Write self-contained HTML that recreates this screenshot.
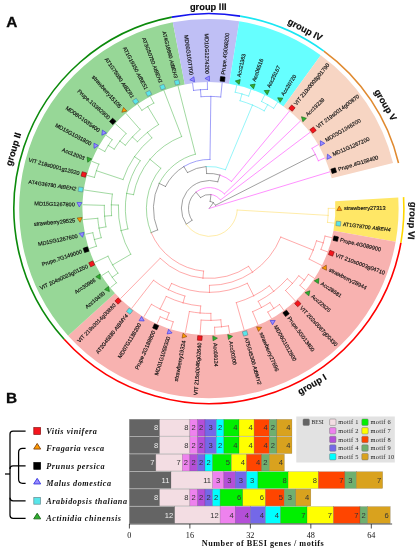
<!DOCTYPE html>
<html lang="en">
<head>
<meta charset="utf-8">
<title>BES1 gene family phylogeny and motif counts</title>
<style>
html,body{margin:0;padding:0;background:#fff;}
body{width:418px;height:550px;overflow:hidden;}
svg{display:block;}
</style>
</head>
<body>
<svg width="418" height="550" viewBox="0 0 418 550">
<rect width="418" height="550" fill="#ffffff"/>
<g id="sectors">
<path d="M398.27 197.47 A189.70 189.70 0 0 1 395.66 241.84 L333.44 230.77 A126.50 126.50 0 0 0 335.18 201.18 Z" fill="#FFE766"/>
<path d="M395.66 241.84 A189.70 189.70 0 0 1 68.09 335.72 L115.00 293.37 A126.50 126.50 0 0 0 333.44 230.77 Z" fill="#F8B2B0"/>
<path d="M68.09 335.72 A189.70 189.70 0 0 1 172.79 22.37 L184.82 84.41 A126.50 126.50 0 0 0 115.00 293.37 Z" fill="#97D797"/>
<path d="M172.79 22.37 A189.70 189.70 0 0 1 239.27 21.35 L229.15 83.73 A126.50 126.50 0 0 0 184.82 84.41 Z" fill="#BFBFF5"/>
<path d="M239.27 21.35 A189.70 189.70 0 0 1 320.73 55.37 L283.48 106.42 A126.50 126.50 0 0 0 229.15 83.73 Z" fill="#66FFFF"/>
<path d="M320.73 55.37 A189.70 189.70 0 0 1 393.04 163.00 L331.69 178.19 A126.50 126.50 0 0 0 283.48 106.42 Z" fill="#F7D5C3"/>
</g>
<g id="ring" fill="none" stroke-width="1.6">
<path d="M403.56 197.16 A195.00 195.00 0 0 1 400.88 242.77" stroke="#FFD700"/>
<path d="M400.88 242.77 A195.00 195.00 0 0 1 64.16 339.27" stroke="#FF0000"/>
<path d="M64.16 339.27 A195.00 195.00 0 0 1 171.79 17.16" stroke="#0B8A0B"/>
<path d="M171.79 17.16 A195.00 195.00 0 0 1 240.12 16.11" stroke="#1414EE"/>
<path d="M240.12 16.11 A195.00 195.00 0 0 1 323.86 51.09" stroke="#19E6F2"/>
<path d="M323.86 51.09 A195.00 195.00 0 0 1 398.51 163.05" stroke="#E08A30"/>
</g>
<g id="tree" fill="none" stroke-width="0.65" stroke-linecap="square">
<path d="M209.30 208.40 L213.31 202.66 M213.31 202.66 A7.00 7.00 0 0 0 210.14 201.45 M210.14 201.45 L210.98 194.50 M210.98 194.50 A14.00 14.00 0 0 0 200.46 197.54 M200.46 197.54 L196.04 192.12 M196.04 192.12 A21.00 21.00 0 0 0 192.00 220.30 M192.00 220.30 L186.23 224.27 M186.23 224.27 A28.00 28.00 0 0 1 217.76 181.71 M217.76 181.71 L219.87 175.03 M219.87 175.03 A35.00 35.00 0 0 0 206.66 173.50 M206.66 173.50 L206.13 166.52 M206.13 166.52 A42.00 42.00 0 0 0 187.46 172.52 M187.46 172.52 L183.82 166.54 M183.82 166.54 A49.00 49.00 0 0 0 165.46 186.51 M165.46 186.51 L159.20 183.38 M159.20 183.38 A56.00 56.00 0 0 0 157.60 229.91 M157.60 229.91 L151.13 232.60 M213.31 202.66 A7.00 7.00 0 0 1 215.54 205.23 M215.54 205.23 L315.36 154.44" stroke="#6E6E6E"/>
<path d="M186.23 224.27 A28.00 28.00 0 0 0 237.25 210.04 M237.25 210.04 L328.09 215.38 M328.09 215.38 A119.00 119.00 0 0 0 328.30 208.40 M328.30 208.40 L335.30 208.40 M328.09 215.38 A119.00 119.00 0 0 1 327.48 222.34 M327.48 222.34 L334.43 223.16" stroke="#FFE27A"/>
<path d="M151.13 232.60 A63.00 63.00 0 0 0 203.57 271.14 M203.57 271.14 L202.94 278.11 M202.94 278.11 A70.00 70.00 0 0 0 248.57 266.35 M248.57 266.35 L252.50 272.14 M252.50 272.14 A77.00 77.00 0 0 0 280.76 237.08 M280.76 237.08 L313.24 250.11 M313.24 250.11 A112.00 112.00 0 0 0 316.51 240.81 M316.51 240.81 L323.21 242.83 M323.21 242.83 A119.00 119.00 0 0 0 325.03 236.09 M325.03 236.09 L331.84 237.72 M323.21 242.83 A119.00 119.00 0 0 1 320.99 249.46 M320.99 249.46 L327.56 251.87 M313.24 250.11 A112.00 112.00 0 0 1 309.17 259.09 M309.17 259.09 L321.65 265.43 M252.50 272.14 A77.00 77.00 0 0 1 209.46 285.40 M209.46 285.40 L209.47 292.40 M209.47 292.40 A84.00 84.00 0 0 0 247.34 283.29 M247.34 283.29 L253.68 295.78 M253.68 295.78 A98.00 98.00 0 0 0 269.44 285.77 M269.44 285.77 L273.74 291.30 M273.74 291.30 A105.00 105.00 0 0 0 287.27 278.73 M287.27 278.73 L292.47 283.42 M292.47 283.42 A112.00 112.00 0 0 0 298.74 275.81 M298.74 275.81 L304.33 280.02 M304.33 280.02 A119.00 119.00 0 0 0 308.37 274.32 M308.37 274.32 L314.20 278.20 M304.33 280.02 A119.00 119.00 0 0 1 299.97 285.48 M299.97 285.48 L305.30 290.01 M292.47 283.42 A112.00 112.00 0 0 1 285.55 290.44 M285.55 290.44 L295.08 300.69 M273.74 291.30 A105.00 105.00 0 0 1 258.22 301.31 M258.22 301.31 L261.48 307.50 M261.48 307.50 A112.00 112.00 0 0 0 269.99 302.53 M269.99 302.53 L273.78 308.41 M273.78 308.41 A119.00 119.00 0 0 0 279.54 304.46 M279.54 304.46 L283.67 310.11 M273.78 308.41 A119.00 119.00 0 0 1 267.80 312.03 M267.80 312.03 L271.25 318.12 M261.48 307.50 A112.00 112.00 0 0 1 252.56 311.71 M252.56 311.71 L257.96 324.62 M253.68 295.78 A98.00 98.00 0 0 1 236.30 302.61 M236.30 302.61 L244.01 329.52 M209.47 292.40 A84.00 84.00 0 0 1 171.57 283.45 M171.57 283.45 L168.43 289.70 M168.43 289.70 A91.00 91.00 0 0 0 184.91 296.07 M184.91 296.07 L183.04 302.81 M183.04 302.81 A98.00 98.00 0 0 0 200.70 306.02 M200.70 306.02 L200.09 313.00 M200.09 313.00 A105.00 105.00 0 0 0 210.86 313.39 M210.86 313.39 L210.97 320.39 M210.97 320.39 A112.00 112.00 0 0 0 220.81 319.81 M220.81 319.81 L221.53 326.77 M221.53 326.77 A119.00 119.00 0 0 0 228.46 325.85 M228.46 325.85 L229.58 332.76 M221.53 326.77 A119.00 119.00 0 0 1 214.57 327.28 M214.57 327.28 L214.88 334.28 M210.97 320.39 A112.00 112.00 0 0 1 201.11 320.10 M201.11 320.10 L200.09 334.06 M200.09 313.00 A105.00 105.00 0 0 1 189.41 311.50 M189.41 311.50 L185.43 332.12 M183.04 302.81 A98.00 98.00 0 0 1 166.25 296.44 M166.25 296.44 L160.10 309.02 M160.10 309.02 A112.00 112.00 0 0 0 169.14 312.95 M169.14 312.95 L166.63 319.49 M166.63 319.49 A119.00 119.00 0 0 0 173.22 321.80 M173.22 321.80 L171.10 328.47 M166.63 319.49 A119.00 119.00 0 0 1 160.19 316.79 M160.19 316.79 L157.30 323.17 M160.10 309.02 A112.00 112.00 0 0 1 151.44 304.30 M151.44 304.30 L144.21 316.29 M168.43 289.70 A91.00 91.00 0 0 1 153.49 280.27 M153.49 280.27 L132.02 307.92 M202.94 278.11 A70.00 70.00 0 0 1 160.18 258.28 M160.18 258.28 L120.89 298.18" stroke="#FF7B7B"/>
<path d="M151.13 232.60 A63.00 63.00 0 0 1 160.76 168.24 M160.76 168.24 L149.98 159.31 M149.98 159.31 A77.00 77.00 0 0 0 133.54 194.66 M133.54 194.66 L126.65 193.41 M126.65 193.41 A84.00 84.00 0 0 0 127.84 228.88 M127.84 228.88 L121.05 230.59 M121.05 230.59 A91.00 91.00 0 0 0 130.73 254.31 M130.73 254.31 L112.60 264.91 M112.60 264.91 A112.00 112.00 0 0 0 117.95 273.20 M117.95 273.20 L112.24 277.25 M112.24 277.25 A119.00 119.00 0 0 0 116.44 282.82 M116.44 282.82 L110.98 287.20 M112.24 277.25 A119.00 119.00 0 0 1 108.36 271.43 M108.36 271.43 L102.43 275.14 M112.60 264.91 A112.00 112.00 0 0 1 108.01 256.19 M108.01 256.19 L95.34 262.16 M121.05 230.59 A91.00 91.00 0 0 1 118.36 205.10 M118.36 205.10 L111.36 204.85 M111.36 204.85 A98.00 98.00 0 0 0 111.57 215.63 M111.57 215.63 L104.59 216.15 M104.59 216.15 A105.00 105.00 0 0 0 105.93 226.85 M105.93 226.85 L99.04 228.08 M99.04 228.08 A112.00 112.00 0 0 0 101.20 237.70 M101.20 237.70 L94.44 239.53 M94.44 239.53 A119.00 119.00 0 0 0 96.47 246.21 M96.47 246.21 L89.83 248.44 M94.44 239.53 A119.00 119.00 0 0 1 92.81 232.74 M92.81 232.74 L85.96 234.17 M99.04 228.08 A112.00 112.00 0 0 1 97.74 218.30 M97.74 218.30 L83.79 219.54 M104.59 216.15 A105.00 105.00 0 0 1 104.34 205.37 M104.34 205.37 L83.35 204.76 M111.36 204.85 A98.00 98.00 0 0 1 112.35 194.11 M112.35 194.11 L84.65 190.03 M126.65 193.41 A84.00 84.00 0 0 1 140.21 160.62 M140.21 160.62 L134.45 156.64 M134.45 156.64 A91.00 91.00 0 0 0 122.99 179.56 M122.99 179.56 L96.43 170.69 M96.43 170.69 A119.00 119.00 0 0 0 94.42 177.38 M94.42 177.38 L87.66 175.55 M96.43 170.69 A119.00 119.00 0 0 1 98.84 164.13 M98.84 164.13 L92.34 161.53 M134.45 156.64 A91.00 91.00 0 0 1 151.85 137.83 M151.85 137.83 L147.43 132.40 M147.43 132.40 A98.00 98.00 0 0 0 137.47 141.73 M137.47 141.73 L132.34 136.97 M132.34 136.97 A105.00 105.00 0 0 0 125.42 145.24 M125.42 145.24 L119.83 141.03 M119.83 141.03 A112.00 112.00 0 0 0 114.25 149.16 M114.25 149.16 L108.31 145.46 M108.31 145.46 A119.00 119.00 0 0 0 104.79 151.49 M104.79 151.49 L98.64 148.15 M108.31 145.46 A119.00 119.00 0 0 1 112.17 139.64 M112.17 139.64 L106.46 135.60 M119.83 141.03 A112.00 112.00 0 0 1 126.10 133.42 M126.10 133.42 L115.70 124.05 M132.34 136.97 A105.00 105.00 0 0 1 140.07 129.45 M140.07 129.45 L126.23 113.67 M147.43 132.40 A98.00 98.00 0 0 1 158.60 124.54 M158.60 124.54 L147.73 106.56 M147.73 106.56 A119.00 119.00 0 0 0 141.86 110.35 M141.86 110.35 L137.90 104.59 M147.73 106.56 A119.00 119.00 0 0 1 153.81 103.13 M153.81 103.13 L150.55 96.93 M149.98 159.31 A77.00 77.00 0 0 1 181.63 136.55 M181.63 136.55 L164.01 90.82 M159.20 183.38 A56.00 56.00 0 0 1 195.43 154.14 M195.43 154.14 L178.10 86.32" stroke="#6FC46F"/>
<path d="M183.82 166.54 A49.00 49.00 0 0 1 209.99 159.40 M209.99 159.40 L210.87 96.41 M210.87 96.41 A112.00 112.00 0 0 0 201.01 96.71 M201.01 96.71 L200.49 89.73 M200.49 89.73 A119.00 119.00 0 0 0 193.55 90.45 M193.55 90.45 L192.62 83.51 M200.49 89.73 A119.00 119.00 0 0 1 207.47 89.41 M207.47 89.41 L207.36 82.41 M210.87 96.41 A112.00 112.00 0 0 1 220.71 96.98 M220.71 96.98 L222.14 83.06" stroke="#6E6EF5"/>
<path d="M206.13 166.52 A42.00 42.00 0 0 1 225.49 169.64 M225.49 169.64 L252.46 105.05 M252.46 105.05 A112.00 112.00 0 0 0 240.06 100.71 M240.06 100.71 L241.98 93.98 M241.98 93.98 A119.00 119.00 0 0 0 235.21 92.26 M235.21 92.26 L236.73 85.42 M241.98 93.98 A119.00 119.00 0 0 1 248.64 96.09 M248.64 96.09 L250.95 89.48 M252.46 105.05 A112.00 112.00 0 0 1 264.27 110.82 M264.27 110.82 L267.71 104.72 M267.71 104.72 A119.00 119.00 0 0 0 261.53 101.47 M261.53 101.47 L264.60 95.18 M267.71 104.72 A119.00 119.00 0 0 1 273.69 108.33 M273.69 108.33 L277.48 102.44" stroke="#5CF0F5"/>
<path d="M219.87 175.03 A35.00 35.00 0 0 1 231.56 181.39 M231.56 181.39 L289.43 111.16 M196.04 192.12 A21.00 21.00 0 0 1 224.46 193.87 M224.46 193.87 L300.27 121.22 M210.98 194.50 A14.00 14.00 0 0 1 220.47 199.96 M220.47 199.96 L309.85 132.47 M315.36 154.44 A119.00 119.00 0 0 0 312.01 148.31 M312.01 148.31 L318.06 144.78 M315.36 154.44 A119.00 119.00 0 0 1 318.35 160.76 M318.35 160.76 L324.76 157.96 M209.30 208.40 L329.88 171.83" stroke="#FF55FF"/>
</g>
<g id="leaves" font-family="'Liberation Sans', Arial, sans-serif" font-size="5.50" fill="#111" stroke="#111" stroke-width="0.15">
<g transform="translate(339.30 208.40) rotate(0.00)"><path d="M0 -2.36 L2.48 2.14 L-2.48 2.14 Z" fill="#FF9A00" stroke="#8A4A10" stroke-width="0.6" stroke-linejoin="miter"/></g>
<text transform="translate(343.90 208.40) rotate(0.00)" dy="0.35em" font-size="5.60">strawberry27313</text>
<g transform="translate(338.40 223.63) rotate(6.73)"><rect x="-2.25" y="-2.25" width="4.50" height="4.50" fill="#58E6EA" stroke="#6A8A90" stroke-width="0.6"/></g>
<text transform="translate(342.97 224.17) rotate(6.73)" dy="0.35em" font-size="5.25">AT1G78700 <tspan font-style="italic">AtBEH4</tspan></text>
<g transform="translate(335.73 238.65) rotate(13.46)"><rect x="-2.25" y="-2.25" width="4.50" height="4.50" fill="#000000" stroke="#000000" stroke-width="0.6"/></g>
<text transform="translate(340.21 239.72) rotate(13.46)" dy="0.35em">Prupe.4G089900</text>
<g transform="translate(331.32 253.25) rotate(20.18)"><rect x="-2.25" y="-2.25" width="4.50" height="4.50" fill="#F5151D" stroke="#8A1010" stroke-width="0.6"/></g>
<text transform="translate(335.63 254.84) rotate(20.18)" dy="0.35em">VIT 210s0003g04710</text>
<g transform="translate(325.22 267.24) rotate(26.91)"><path d="M0 -2.36 L2.48 2.14 L-2.48 2.14 Z" fill="#FF9A00" stroke="#8A4A10" stroke-width="0.6" stroke-linejoin="miter"/></g>
<text transform="translate(329.32 269.32) rotate(26.91)" dy="0.35em" font-size="5.60">strawberry28944</text>
<g transform="translate(317.53 280.42) rotate(33.64)"><path d="M0 -2.36 L2.48 2.14 L-2.48 2.14 Z" fill="#2FB02F" stroke="#1C6A1C" stroke-width="0.6" stroke-linejoin="miter"/></g>
<text transform="translate(321.36 282.96) rotate(33.64)" dy="0.35em" font-size="5.35">Acc28681</text>
<g transform="translate(308.35 292.60) rotate(40.37)"><path d="M0 -2.36 L2.48 2.14 L-2.48 2.14 Z" fill="#2FB02F" stroke="#1C6A1C" stroke-width="0.6" stroke-linejoin="miter"/></g>
<text transform="translate(311.85 295.58) rotate(40.37)" dy="0.35em" font-size="5.35">Acc22625</text>
<g transform="translate(297.80 303.62) rotate(47.10)"><rect x="-2.25" y="-2.25" width="4.50" height="4.50" fill="#F5151D" stroke="#8A1010" stroke-width="0.6"/></g>
<text transform="translate(300.93 306.99) rotate(47.10)" dy="0.35em">VIT 202s0087g00430</text>
<g transform="translate(286.03 313.34) rotate(53.82)"><rect x="-2.25" y="-2.25" width="4.50" height="4.50" fill="#000000" stroke="#000000" stroke-width="0.6"/></g>
<text transform="translate(288.75 317.05) rotate(53.82)" dy="0.35em">Prupe.5G013400</text>
<g transform="translate(273.21 321.60) rotate(60.55)"><path d="M0 -2.36 L2.48 2.14 L-2.48 2.14 Z" fill="#9A8CFF" stroke="#3C3CE0" stroke-width="0.6" stroke-linejoin="miter"/></g>
<text transform="translate(275.47 325.61) rotate(60.55)" dy="0.35em">MD06G1012800</text>
<g transform="translate(259.51 328.31) rotate(67.28)"><path d="M0 -2.36 L2.48 2.14 L-2.48 2.14 Z" fill="#FF9A00" stroke="#8A4A10" stroke-width="0.6" stroke-linejoin="miter"/></g>
<text transform="translate(261.29 332.56) rotate(67.28)" dy="0.35em" font-size="5.60">strawberry27696</text>
<g transform="translate(245.12 333.37) rotate(74.01)"><rect x="-2.25" y="-2.25" width="4.50" height="4.50" fill="#58E6EA" stroke="#6A8A90" stroke-width="0.6"/></g>
<text transform="translate(246.38 337.79) rotate(74.01)" dy="0.35em" font-size="5.25">AT5G45300 <tspan font-style="italic">AtBMY2</tspan></text>
<g transform="translate(230.23 336.70) rotate(80.74)"><path d="M0 -2.36 L2.48 2.14 L-2.48 2.14 Z" fill="#2FB02F" stroke="#1C6A1C" stroke-width="0.6" stroke-linejoin="miter"/></g>
<text transform="translate(230.97 341.24) rotate(80.74)" dy="0.35em" font-size="5.35">Acc20200</text>
<g transform="translate(215.05 338.27) rotate(87.46)"><path d="M0 -2.36 L2.48 2.14 L-2.48 2.14 Z" fill="#2FB02F" stroke="#1C6A1C" stroke-width="0.6" stroke-linejoin="miter"/></g>
<text transform="translate(215.26 342.87) rotate(87.46)" dy="0.35em" font-size="5.35">Acc09124</text>
<g transform="translate(199.80 338.05) rotate(94.19)"><rect x="-2.25" y="-2.25" width="4.50" height="4.50" fill="#F5151D" stroke="#8A1010" stroke-width="0.6"/></g>
<text transform="translate(199.46 342.64) rotate(274.19)" text-anchor="end" dy="0.35em">VIT 215s0046g02640</text>
<g transform="translate(184.67 336.05) rotate(100.92)"><path d="M0 -2.36 L2.48 2.14 L-2.48 2.14 Z" fill="#FF9A00" stroke="#8A4A10" stroke-width="0.6" stroke-linejoin="miter"/></g>
<text transform="translate(183.80 340.56) rotate(280.92)" text-anchor="end" dy="0.35em" font-size="5.60">strawberry19324</text>
<g transform="translate(169.89 332.28) rotate(107.65)"><path d="M0 -2.36 L2.48 2.14 L-2.48 2.14 Z" fill="#9A8CFF" stroke="#3C3CE0" stroke-width="0.6" stroke-linejoin="miter"/></g>
<text transform="translate(168.49 336.67) rotate(287.65)" text-anchor="end" dy="0.35em">MD01G1059300</text>
<g transform="translate(155.65 326.81) rotate(114.38)"><rect x="-2.25" y="-2.25" width="4.50" height="4.50" fill="#000000" stroke="#000000" stroke-width="0.6"/></g>
<text transform="translate(153.75 331.00) rotate(294.38)" text-anchor="end" dy="0.35em">Prupe.2G189800</text>
<g transform="translate(142.14 319.71) rotate(121.10)"><path d="M0 -2.36 L2.48 2.14 L-2.48 2.14 Z" fill="#9A8CFF" stroke="#3C3CE0" stroke-width="0.6" stroke-linejoin="miter"/></g>
<text transform="translate(139.77 323.65) rotate(301.10)" text-anchor="end" dy="0.35em">MD07G1138200</text>
<g transform="translate(129.56 311.08) rotate(127.83)"><rect x="-2.25" y="-2.25" width="4.50" height="4.50" fill="#58E6EA" stroke="#6A8A90" stroke-width="0.6"/></g>
<text transform="translate(126.74 314.71) rotate(307.83)" text-anchor="end" dy="0.35em" font-size="5.25">AT2G45880 <tspan font-style="italic">AtBMY4</tspan></text>
<g transform="translate(118.08 301.03) rotate(134.56)"><rect x="-2.25" y="-2.25" width="4.50" height="4.50" fill="#F5151D" stroke="#8A1010" stroke-width="0.6"/></g>
<text transform="translate(114.86 304.30) rotate(314.56)" text-anchor="end" dy="0.35em">VIT 219s0014g00880</text>
<g transform="translate(107.86 289.70) rotate(141.29)"><path d="M0 -2.36 L2.48 2.14 L-2.48 2.14 Z" fill="#2FB02F" stroke="#1C6A1C" stroke-width="0.6" stroke-linejoin="miter"/></g>
<text transform="translate(104.27 292.58) rotate(321.29)" text-anchor="end" dy="0.35em" font-size="5.35">Acc10430</text>
<g transform="translate(99.03 277.26) rotate(148.02)"><path d="M0 -2.36 L2.48 2.14 L-2.48 2.14 Z" fill="#2FB02F" stroke="#1C6A1C" stroke-width="0.6" stroke-linejoin="miter"/></g>
<text transform="translate(95.13 279.70) rotate(328.02)" text-anchor="end" dy="0.35em" font-size="5.35">Acc30966</text>
<g transform="translate(91.73 263.87) rotate(154.74)"><rect x="-2.25" y="-2.25" width="4.50" height="4.50" fill="#F5151D" stroke="#8A1010" stroke-width="0.6"/></g>
<text transform="translate(87.57 265.83) rotate(334.74)" text-anchor="end" dy="0.35em">VIT 204s0023g01250</text>
<g transform="translate(86.04 249.71) rotate(161.47)"><rect x="-2.25" y="-2.25" width="4.50" height="4.50" fill="#000000" stroke="#000000" stroke-width="0.6"/></g>
<text transform="translate(81.68 251.17) rotate(341.47)" text-anchor="end" dy="0.35em">Prupe.7G149000</text>
<g transform="translate(82.05 234.98) rotate(168.20)"><path d="M0 -2.36 L2.48 2.14 L-2.48 2.14 Z" fill="#9A8CFF" stroke="#3C3CE0" stroke-width="0.6" stroke-linejoin="miter"/></g>
<text transform="translate(77.54 235.93) rotate(348.20)" text-anchor="end" dy="0.35em">MD15G1267600</text>
<g transform="translate(79.81 219.89) rotate(174.93)"><path d="M0 -2.36 L2.48 2.14 L-2.48 2.14 Z" fill="#FF9A00" stroke="#8A4A10" stroke-width="0.6" stroke-linejoin="miter"/></g>
<text transform="translate(75.23 220.30) rotate(354.93)" text-anchor="end" dy="0.35em" font-size="5.60">strawberry29525</text>
<g transform="translate(79.35 204.64) rotate(181.66)"><path d="M0 -2.36 L2.48 2.14 L-2.48 2.14 Z" fill="#9A8CFF" stroke="#3C3CE0" stroke-width="0.6" stroke-linejoin="miter"/></g>
<text transform="translate(74.76 204.51) rotate(361.66)" text-anchor="end" dy="0.35em">MD15G1267800</text>
<g transform="translate(80.69 189.45) rotate(188.38)"><rect x="-2.25" y="-2.25" width="4.50" height="4.50" fill="#58E6EA" stroke="#6A8A90" stroke-width="0.6"/></g>
<text transform="translate(76.14 188.77) rotate(368.38)" text-anchor="end" dy="0.35em" font-size="5.25">AT4G36780 <tspan font-style="italic">AtBEH2</tspan></text>
<g transform="translate(83.80 174.51) rotate(195.11)"><rect x="-2.25" y="-2.25" width="4.50" height="4.50" fill="#F5151D" stroke="#8A1010" stroke-width="0.6"/></g>
<text transform="translate(79.35 173.31) rotate(375.11)" text-anchor="end" dy="0.35em">VIT 218s0001g12020</text>
<g transform="translate(88.63 160.04) rotate(201.84)"><path d="M0 -2.36 L2.48 2.14 L-2.48 2.14 Z" fill="#2FB02F" stroke="#1C6A1C" stroke-width="0.6" stroke-linejoin="miter"/></g>
<text transform="translate(84.36 158.33) rotate(381.84)" text-anchor="end" dy="0.35em" font-size="5.35">Acc12003</text>
<g transform="translate(95.13 146.23) rotate(208.57)"><path d="M0 -2.36 L2.48 2.14 L-2.48 2.14 Z" fill="#9A8CFF" stroke="#3C3CE0" stroke-width="0.6" stroke-linejoin="miter"/></g>
<text transform="translate(91.09 144.03) rotate(388.57)" text-anchor="end" dy="0.35em">MD15G1031800</text>
<g transform="translate(103.20 133.29) rotate(215.30)"><path d="M0 -2.36 L2.48 2.14 L-2.48 2.14 Z" fill="#9A8CFF" stroke="#3C3CE0" stroke-width="0.6" stroke-linejoin="miter"/></g>
<text transform="translate(99.44 130.63) rotate(395.30)" text-anchor="end" dy="0.35em">MD08G1035400</text>
<g transform="translate(112.73 121.37) rotate(222.02)"><rect x="-2.25" y="-2.25" width="4.50" height="4.50" fill="#000000" stroke="#000000" stroke-width="0.6"/></g>
<text transform="translate(109.31 118.29) rotate(402.02)" text-anchor="end" dy="0.35em">Prupe.1G382900</text>
<g transform="translate(123.59 110.66) rotate(228.75)"><path d="M0 -2.36 L2.48 2.14 L-2.48 2.14 Z" fill="#FF9A00" stroke="#8A4A10" stroke-width="0.6" stroke-linejoin="miter"/></g>
<text transform="translate(120.56 107.20) rotate(408.75)" text-anchor="end" dy="0.35em" font-size="5.60">strawberry15105</text>
<g transform="translate(135.63 101.29) rotate(235.48)"><rect x="-2.25" y="-2.25" width="4.50" height="4.50" fill="#58E6EA" stroke="#6A8A90" stroke-width="0.6"/></g>
<text transform="translate(133.02 97.50) rotate(415.48)" text-anchor="end" dy="0.35em" font-size="5.25">AT1G75080 <tspan font-style="italic">AtBZR1</tspan></text>
<g transform="translate(148.69 93.40) rotate(242.21)"><rect x="-2.25" y="-2.25" width="4.50" height="4.50" fill="#58E6EA" stroke="#6A8A90" stroke-width="0.6"/></g>
<text transform="translate(146.54 89.33) rotate(422.21)" text-anchor="end" dy="0.35em" font-size="5.25">AT1G19350 <tspan font-style="italic">AtBES1</tspan></text>
<g transform="translate(162.58 87.09) rotate(248.94)"><rect x="-2.25" y="-2.25" width="4.50" height="4.50" fill="#58E6EA" stroke="#6A8A90" stroke-width="0.6"/></g>
<text transform="translate(160.92 82.79) rotate(428.94)" text-anchor="end" dy="0.35em" font-size="5.25">AT3G50750 <tspan font-style="italic">AtBEH1</tspan></text>
<g transform="translate(177.11 82.45) rotate(255.66)"><rect x="-2.25" y="-2.25" width="4.50" height="4.50" fill="#58E6EA" stroke="#6A8A90" stroke-width="0.6"/></g>
<text transform="translate(175.97 77.99) rotate(435.66)" text-anchor="end" dy="0.35em" font-size="5.25">AT4G18890 <tspan font-style="italic">AtBEH3</tspan></text>
<g transform="translate(192.09 79.54) rotate(262.39)"><path d="M0 -2.36 L2.48 2.14 L-2.48 2.14 Z" fill="#9A8CFF" stroke="#3C3CE0" stroke-width="0.6" stroke-linejoin="miter"/></g>
<text transform="translate(191.48 74.98) rotate(442.39)" text-anchor="end" dy="0.35em">MD00G1007700</text>
<g transform="translate(207.30 78.42) rotate(269.12)"><path d="M0 -2.36 L2.48 2.14 L-2.48 2.14 Z" fill="#9A8CFF" stroke="#3C3CE0" stroke-width="0.6" stroke-linejoin="miter"/></g>
<text transform="translate(207.23 73.82) rotate(449.12)" text-anchor="end" dy="0.35em">MD10G1274200</text>
<g transform="translate(222.55 79.08) rotate(275.85)"><rect x="-2.25" y="-2.25" width="4.50" height="4.50" fill="#000000" stroke="#000000" stroke-width="0.6"/></g>
<text transform="translate(223.01 74.50) rotate(275.85)" dy="0.35em">Prupe.4G068200</text>
<g transform="translate(237.61 81.52) rotate(282.58)"><path d="M0 -2.36 L2.48 2.14 L-2.48 2.14 Z" fill="#2FB02F" stroke="#1C6A1C" stroke-width="0.6" stroke-linejoin="miter"/></g>
<text transform="translate(238.61 77.03) rotate(282.58)" dy="0.35em" font-size="5.35">Acc21363</text>
<g transform="translate(252.28 85.71) rotate(289.30)"><path d="M0 -2.36 L2.48 2.14 L-2.48 2.14 Z" fill="#2FB02F" stroke="#1C6A1C" stroke-width="0.6" stroke-linejoin="miter"/></g>
<text transform="translate(253.80 81.37) rotate(289.30)" dy="0.35em" font-size="5.35">Acc06516</text>
<g transform="translate(266.35 91.59) rotate(296.03)"><path d="M0 -2.36 L2.48 2.14 L-2.48 2.14 Z" fill="#2FB02F" stroke="#1C6A1C" stroke-width="0.6" stroke-linejoin="miter"/></g>
<text transform="translate(268.37 87.46) rotate(296.03)" dy="0.35em" font-size="5.35">Acc25167</text>
<g transform="translate(279.65 99.08) rotate(302.76)"><path d="M0 -2.36 L2.48 2.14 L-2.48 2.14 Z" fill="#2FB02F" stroke="#1C6A1C" stroke-width="0.6" stroke-linejoin="miter"/></g>
<text transform="translate(282.13 95.21) rotate(302.76)" dy="0.35em" font-size="5.35">Acc20720</text>
<g transform="translate(291.97 108.07) rotate(309.49)"><rect x="-2.25" y="-2.25" width="4.50" height="4.50" fill="#F5151D" stroke="#8A1010" stroke-width="0.6"/></g>
<text transform="translate(294.89 104.52) rotate(309.49)" dy="0.35em">VIT 210s0003g01790</text>
<g transform="translate(303.15 118.45) rotate(316.22)"><path d="M0 -2.36 L2.48 2.14 L-2.48 2.14 Z" fill="#2FB02F" stroke="#1C6A1C" stroke-width="0.6" stroke-linejoin="miter"/></g>
<text transform="translate(306.47 115.26) rotate(316.22)" dy="0.35em" font-size="5.35">Acc19239</text>
<g transform="translate(313.05 130.06) rotate(322.94)"><rect x="-2.25" y="-2.25" width="4.50" height="4.50" fill="#F5151D" stroke="#8A1010" stroke-width="0.6"/></g>
<text transform="translate(316.72 127.29) rotate(322.94)" dy="0.35em">VIT 219s0014g00870</text>
<g transform="translate(321.51 142.76) rotate(329.67)"><path d="M0 -2.36 L2.48 2.14 L-2.48 2.14 Z" fill="#9A8CFF" stroke="#3C3CE0" stroke-width="0.6" stroke-linejoin="miter"/></g>
<text transform="translate(325.48 140.43) rotate(329.67)" dy="0.35em">MD03G1246200</text>
<g transform="translate(328.43 156.35) rotate(336.40)"><path d="M0 -2.36 L2.48 2.14 L-2.48 2.14 Z" fill="#9A8CFF" stroke="#3C3CE0" stroke-width="0.6" stroke-linejoin="miter"/></g>
<text transform="translate(332.64 154.51) rotate(336.40)" dy="0.35em">MD11G1267200</text>
<g transform="translate(333.70 170.67) rotate(343.13)"><rect x="-2.25" y="-2.25" width="4.50" height="4.50" fill="#000000" stroke="#000000" stroke-width="0.6"/></g>
<text transform="translate(338.11 169.33) rotate(343.13)" dy="0.35em">Prupe.4G158400</text>
</g>
<g id="glabels" font-family="'Liberation Sans', Arial, sans-serif" font-size="9.3" font-weight="bold" fill="#0a0a0a" stroke="#0a0a0a" stroke-width="0.15" text-anchor="middle">
<text transform="translate(312.02 384.19) rotate(-30.30)" dy="0.35em">group I</text>
<text transform="translate(13.24 149.21) rotate(286.80)" dy="0.35em">group II</text>
<text transform="translate(208.24 6.70) rotate(359.70)" dy="0.35em">group III</text>
<text transform="translate(305.23 29.50) rotate(388.20)" dy="0.35em">group IV</text>
<text transform="translate(385.68 104.92) rotate(419.60)" dy="0.35em">group V</text>
<text transform="translate(412.32 220.82) rotate(93.50)" dy="0.35em">group VI</text>
</g>
<g font-family="'Liberation Sans', Arial, sans-serif" font-weight="bold" font-size="15.4" fill="#0a0a0a" stroke="#0a0a0a" stroke-width="0.3">
<text x="6.2" y="26.9">A</text>
<text x="6.1" y="403.3">B</text>
</g>
<g id="sptree" fill="none" stroke="#000" stroke-width="1.25">
<path d="M5 474 H10.00"/>
<path d="M25.60 431.00 H13.00 Q10.00 431.00 10.00 434.00 V515.25 Q10.00 518.25 13.00 518.25 H25.60"/>
<path d="M10.00 497.80 Q10.00 500.80 13.00 500.80 H25.60"/>
<path d="M10.00 468.90 Q10.00 465.90 13.00 465.90 H25.60"/>
<path d="M25.60 448.45 H22.60 Q18.60 448.45 18.60 452.45 V479.35 Q18.60 483.35 22.60 483.35 H25.60"/>
</g>
<g id="spmarks">
<g transform="translate(37.2 431.00)"><rect x="-3.4" y="-3.4" width="6.8" height="6.8" fill="#F5151D" stroke="#8A1010" stroke-width="0.7"/></g>
<g transform="translate(37.2 448.45)"><path d="M0 -5.0 L3.5 0.6 L-3.5 0.6 Z" fill="#FF9A00" stroke="#8A4A10" stroke-width="0.95" stroke-linejoin="miter"/></g>
<g transform="translate(37.2 465.90)"><rect x="-3.4" y="-3.4" width="6.8" height="6.8" fill="#000000" stroke="#000000" stroke-width="0.7"/></g>
<g transform="translate(37.2 483.35)"><path d="M0 -5.0 L3.5 0.6 L-3.5 0.6 Z" fill="#9A8CFF" stroke="#3C3CE0" stroke-width="0.95" stroke-linejoin="miter"/></g>
<g transform="translate(37.2 500.80)"><rect x="-3.4" y="-3.4" width="6.8" height="6.8" fill="#58E6EA" stroke="#6A8A90" stroke-width="0.7"/></g>
<g transform="translate(37.2 518.25)"><path d="M0 -5.0 L3.5 0.6 L-3.5 0.6 Z" fill="#2FB02F" stroke="#1C6A1C" stroke-width="0.95" stroke-linejoin="miter"/></g>
</g>
<g id="spnames" font-family="'Liberation Serif', 'Times New Roman', serif" font-weight="bold" font-style="italic" font-size="8.2" fill="#111" letter-spacing="0.55">
<text x="46.3" y="433.70">Vitis vinifera</text>
<text x="46.3" y="451.15">Fragaria vesca</text>
<text x="46.3" y="468.60">Prunus persica</text>
<text x="46.3" y="486.05">Malus domestica</text>
<text x="46.3" y="503.50">Arabidopsis thaliana</text>
<text x="46.3" y="520.95">Actinidia chinensis</text>
</g>
<g id="bars">
<rect x="129.40" y="419.35" width="30.24" height="16.75" fill="#646464" stroke="#444" stroke-opacity="0.45" stroke-width="0.4"/>
<rect x="159.64" y="419.35" width="30.24" height="16.75" fill="#F3DDE3" stroke="#444" stroke-opacity="0.45" stroke-width="0.4"/>
<rect x="189.88" y="419.35" width="7.56" height="16.75" fill="#EE82EE" stroke="#444" stroke-opacity="0.45" stroke-width="0.4"/>
<rect x="197.44" y="419.35" width="7.56" height="16.75" fill="#B44FD8" stroke="#444" stroke-opacity="0.45" stroke-width="0.4"/>
<rect x="205.00" y="419.35" width="11.34" height="16.75" fill="#7468E8" stroke="#444" stroke-opacity="0.45" stroke-width="0.4"/>
<rect x="216.34" y="419.35" width="7.56" height="16.75" fill="#00FFFF" stroke="#444" stroke-opacity="0.45" stroke-width="0.4"/>
<rect x="223.90" y="419.35" width="15.12" height="16.75" fill="#00F000" stroke="#444" stroke-opacity="0.45" stroke-width="0.4"/>
<rect x="239.02" y="419.35" width="15.12" height="16.75" fill="#FFFF00" stroke="#444" stroke-opacity="0.45" stroke-width="0.4"/>
<rect x="254.14" y="419.35" width="15.12" height="16.75" fill="#FF4500" stroke="#444" stroke-opacity="0.45" stroke-width="0.4"/>
<rect x="269.26" y="419.35" width="7.56" height="16.75" fill="#6FAF6F" stroke="#444" stroke-opacity="0.45" stroke-width="0.4"/>
<rect x="276.82" y="419.35" width="15.12" height="16.75" fill="#D9A21E" stroke="#444" stroke-opacity="0.45" stroke-width="0.4"/>
<rect x="129.40" y="436.80" width="30.24" height="16.75" fill="#646464" stroke="#444" stroke-opacity="0.45" stroke-width="0.4"/>
<rect x="159.64" y="436.80" width="30.24" height="16.75" fill="#F3DDE3" stroke="#444" stroke-opacity="0.45" stroke-width="0.4"/>
<rect x="189.88" y="436.80" width="7.56" height="16.75" fill="#EE82EE" stroke="#444" stroke-opacity="0.45" stroke-width="0.4"/>
<rect x="197.44" y="436.80" width="7.56" height="16.75" fill="#B44FD8" stroke="#444" stroke-opacity="0.45" stroke-width="0.4"/>
<rect x="205.00" y="436.80" width="11.34" height="16.75" fill="#7468E8" stroke="#444" stroke-opacity="0.45" stroke-width="0.4"/>
<rect x="216.34" y="436.80" width="7.56" height="16.75" fill="#00FFFF" stroke="#444" stroke-opacity="0.45" stroke-width="0.4"/>
<rect x="223.90" y="436.80" width="15.12" height="16.75" fill="#00F000" stroke="#444" stroke-opacity="0.45" stroke-width="0.4"/>
<rect x="239.02" y="436.80" width="15.12" height="16.75" fill="#FFFF00" stroke="#444" stroke-opacity="0.45" stroke-width="0.4"/>
<rect x="254.14" y="436.80" width="15.12" height="16.75" fill="#FF4500" stroke="#444" stroke-opacity="0.45" stroke-width="0.4"/>
<rect x="269.26" y="436.80" width="7.56" height="16.75" fill="#6FAF6F" stroke="#444" stroke-opacity="0.45" stroke-width="0.4"/>
<rect x="276.82" y="436.80" width="15.12" height="16.75" fill="#D9A21E" stroke="#444" stroke-opacity="0.45" stroke-width="0.4"/>
<rect x="129.40" y="454.25" width="26.46" height="16.75" fill="#646464" stroke="#444" stroke-opacity="0.45" stroke-width="0.4"/>
<rect x="155.86" y="454.25" width="26.46" height="16.75" fill="#F3DDE3" stroke="#444" stroke-opacity="0.45" stroke-width="0.4"/>
<rect x="182.32" y="454.25" width="7.56" height="16.75" fill="#EE82EE" stroke="#444" stroke-opacity="0.45" stroke-width="0.4"/>
<rect x="189.88" y="454.25" width="7.56" height="16.75" fill="#B44FD8" stroke="#444" stroke-opacity="0.45" stroke-width="0.4"/>
<rect x="197.44" y="454.25" width="7.56" height="16.75" fill="#7468E8" stroke="#444" stroke-opacity="0.45" stroke-width="0.4"/>
<rect x="205.00" y="454.25" width="7.56" height="16.75" fill="#00FFFF" stroke="#444" stroke-opacity="0.45" stroke-width="0.4"/>
<rect x="212.56" y="454.25" width="18.90" height="16.75" fill="#00F000" stroke="#444" stroke-opacity="0.45" stroke-width="0.4"/>
<rect x="231.46" y="454.25" width="15.12" height="16.75" fill="#FFFF00" stroke="#444" stroke-opacity="0.45" stroke-width="0.4"/>
<rect x="246.58" y="454.25" width="15.12" height="16.75" fill="#FF4500" stroke="#444" stroke-opacity="0.45" stroke-width="0.4"/>
<rect x="261.70" y="454.25" width="7.56" height="16.75" fill="#6FAF6F" stroke="#444" stroke-opacity="0.45" stroke-width="0.4"/>
<rect x="269.26" y="454.25" width="15.12" height="16.75" fill="#D9A21E" stroke="#444" stroke-opacity="0.45" stroke-width="0.4"/>
<rect x="129.40" y="471.70" width="41.58" height="16.75" fill="#646464" stroke="#444" stroke-opacity="0.45" stroke-width="0.4"/>
<rect x="170.98" y="471.70" width="41.58" height="16.75" fill="#F3DDE3" stroke="#444" stroke-opacity="0.45" stroke-width="0.4"/>
<rect x="212.56" y="471.70" width="11.34" height="16.75" fill="#EE82EE" stroke="#444" stroke-opacity="0.45" stroke-width="0.4"/>
<rect x="223.90" y="471.70" width="11.34" height="16.75" fill="#B44FD8" stroke="#444" stroke-opacity="0.45" stroke-width="0.4"/>
<rect x="235.24" y="471.70" width="11.34" height="16.75" fill="#7468E8" stroke="#444" stroke-opacity="0.45" stroke-width="0.4"/>
<rect x="246.58" y="471.70" width="11.34" height="16.75" fill="#00FFFF" stroke="#444" stroke-opacity="0.45" stroke-width="0.4"/>
<rect x="257.92" y="471.70" width="30.24" height="16.75" fill="#00F000" stroke="#444" stroke-opacity="0.45" stroke-width="0.4"/>
<rect x="288.16" y="471.70" width="30.24" height="16.75" fill="#FFFF00" stroke="#444" stroke-opacity="0.45" stroke-width="0.4"/>
<rect x="318.40" y="471.70" width="26.46" height="16.75" fill="#FF4500" stroke="#444" stroke-opacity="0.45" stroke-width="0.4"/>
<rect x="344.86" y="471.70" width="11.34" height="16.75" fill="#6FAF6F" stroke="#444" stroke-opacity="0.45" stroke-width="0.4"/>
<rect x="356.20" y="471.70" width="26.46" height="16.75" fill="#D9A21E" stroke="#444" stroke-opacity="0.45" stroke-width="0.4"/>
<rect x="129.40" y="489.15" width="30.24" height="16.75" fill="#646464" stroke="#444" stroke-opacity="0.45" stroke-width="0.4"/>
<rect x="159.64" y="489.15" width="30.24" height="16.75" fill="#F3DDE3" stroke="#444" stroke-opacity="0.45" stroke-width="0.4"/>
<rect x="189.88" y="489.15" width="7.56" height="16.75" fill="#EE82EE" stroke="#444" stroke-opacity="0.45" stroke-width="0.4"/>
<rect x="197.44" y="489.15" width="7.56" height="16.75" fill="#B44FD8" stroke="#444" stroke-opacity="0.45" stroke-width="0.4"/>
<rect x="205.00" y="489.15" width="7.56" height="16.75" fill="#7468E8" stroke="#444" stroke-opacity="0.45" stroke-width="0.4"/>
<rect x="212.56" y="489.15" width="7.56" height="16.75" fill="#00FFFF" stroke="#444" stroke-opacity="0.45" stroke-width="0.4"/>
<rect x="220.12" y="489.15" width="22.68" height="16.75" fill="#00F000" stroke="#444" stroke-opacity="0.45" stroke-width="0.4"/>
<rect x="242.80" y="489.15" width="22.68" height="16.75" fill="#FFFF00" stroke="#444" stroke-opacity="0.45" stroke-width="0.4"/>
<rect x="265.48" y="489.15" width="18.90" height="16.75" fill="#FF4500" stroke="#444" stroke-opacity="0.45" stroke-width="0.4"/>
<rect x="284.38" y="489.15" width="11.34" height="16.75" fill="#6FAF6F" stroke="#444" stroke-opacity="0.45" stroke-width="0.4"/>
<rect x="295.72" y="489.15" width="15.12" height="16.75" fill="#D9A21E" stroke="#444" stroke-opacity="0.45" stroke-width="0.4"/>
<rect x="129.40" y="506.60" width="45.36" height="16.75" fill="#646464" stroke="#444" stroke-opacity="0.45" stroke-width="0.4"/>
<rect x="174.76" y="506.60" width="45.36" height="16.75" fill="#F3DDE3" stroke="#444" stroke-opacity="0.45" stroke-width="0.4"/>
<rect x="220.12" y="506.60" width="15.12" height="16.75" fill="#EE82EE" stroke="#444" stroke-opacity="0.45" stroke-width="0.4"/>
<rect x="235.24" y="506.60" width="15.12" height="16.75" fill="#B44FD8" stroke="#444" stroke-opacity="0.45" stroke-width="0.4"/>
<rect x="250.36" y="506.60" width="15.12" height="16.75" fill="#7468E8" stroke="#444" stroke-opacity="0.45" stroke-width="0.4"/>
<rect x="265.48" y="506.60" width="15.12" height="16.75" fill="#00FFFF" stroke="#444" stroke-opacity="0.45" stroke-width="0.4"/>
<rect x="280.60" y="506.60" width="26.46" height="16.75" fill="#00F000" stroke="#444" stroke-opacity="0.45" stroke-width="0.4"/>
<rect x="307.06" y="506.60" width="26.46" height="16.75" fill="#FFFF00" stroke="#444" stroke-opacity="0.45" stroke-width="0.4"/>
<rect x="333.52" y="506.60" width="26.46" height="16.75" fill="#FF4500" stroke="#444" stroke-opacity="0.45" stroke-width="0.4"/>
<rect x="359.98" y="506.60" width="7.56" height="16.75" fill="#6FAF6F" stroke="#444" stroke-opacity="0.45" stroke-width="0.4"/>
<rect x="367.54" y="506.60" width="22.68" height="16.75" fill="#D9A21E" stroke="#444" stroke-opacity="0.45" stroke-width="0.4"/>
</g>
<g id="barlabels" font-family="'Liberation Sans', Arial, sans-serif" font-size="7.6" text-anchor="end">
<text x="158.14" y="430.48" fill="#efefef">8</text>
<text x="188.38" y="430.48" fill="#333">8</text>
<text x="195.66" y="430.48" fill="#333">2</text>
<text x="203.22" y="430.48" fill="#333">2</text>
<text x="212.67" y="430.48" fill="#333">3</text>
<text x="222.12" y="430.48" fill="#333">2</text>
<text x="237.52" y="430.48" fill="#333">4</text>
<text x="252.64" y="430.48" fill="#333">4</text>
<text x="267.76" y="430.48" fill="#333">4</text>
<text x="275.04" y="430.48" fill="#333">2</text>
<text x="290.44" y="430.48" fill="#333">4</text>
<text x="158.14" y="447.93" fill="#efefef">8</text>
<text x="188.38" y="447.93" fill="#333">8</text>
<text x="195.66" y="447.93" fill="#333">2</text>
<text x="203.22" y="447.93" fill="#333">2</text>
<text x="212.67" y="447.93" fill="#333">3</text>
<text x="222.12" y="447.93" fill="#333">2</text>
<text x="237.52" y="447.93" fill="#333">4</text>
<text x="252.64" y="447.93" fill="#333">4</text>
<text x="267.76" y="447.93" fill="#333">4</text>
<text x="275.04" y="447.93" fill="#333">2</text>
<text x="290.44" y="447.93" fill="#333">4</text>
<text x="154.36" y="465.38" fill="#efefef">7</text>
<text x="180.82" y="465.38" fill="#333">7</text>
<text x="188.10" y="465.38" fill="#333">2</text>
<text x="195.66" y="465.38" fill="#333">2</text>
<text x="203.22" y="465.38" fill="#333">2</text>
<text x="210.78" y="465.38" fill="#333">2</text>
<text x="229.96" y="465.38" fill="#333">5</text>
<text x="245.08" y="465.38" fill="#333">4</text>
<text x="260.20" y="465.38" fill="#333">4</text>
<text x="267.48" y="465.38" fill="#333">2</text>
<text x="282.88" y="465.38" fill="#333">4</text>
<text x="169.48" y="482.83" fill="#efefef">11</text>
<text x="211.06" y="482.83" fill="#333">11</text>
<text x="220.23" y="482.83" fill="#333">3</text>
<text x="231.57" y="482.83" fill="#333">3</text>
<text x="242.91" y="482.83" fill="#333">3</text>
<text x="254.25" y="482.83" fill="#333">3</text>
<text x="286.66" y="482.83" fill="#333">8</text>
<text x="316.90" y="482.83" fill="#333">8</text>
<text x="343.36" y="482.83" fill="#333">7</text>
<text x="352.53" y="482.83" fill="#333">3</text>
<text x="381.16" y="482.83" fill="#333">7</text>
<text x="158.14" y="500.28" fill="#efefef">8</text>
<text x="188.38" y="500.28" fill="#333">8</text>
<text x="195.66" y="500.28" fill="#333">2</text>
<text x="203.22" y="500.28" fill="#333">2</text>
<text x="210.78" y="500.28" fill="#333">2</text>
<text x="218.34" y="500.28" fill="#333">2</text>
<text x="241.30" y="500.28" fill="#333">6</text>
<text x="263.98" y="500.28" fill="#333">6</text>
<text x="282.88" y="500.28" fill="#333">5</text>
<text x="292.05" y="500.28" fill="#333">3</text>
<text x="309.34" y="500.28" fill="#333">4</text>
<text x="173.26" y="517.73" fill="#efefef">12</text>
<text x="218.62" y="517.73" fill="#333">12</text>
<text x="233.74" y="517.73" fill="#333">4</text>
<text x="248.86" y="517.73" fill="#333">4</text>
<text x="263.98" y="517.73" fill="#333">4</text>
<text x="279.10" y="517.73" fill="#333">4</text>
<text x="305.56" y="517.73" fill="#333">7</text>
<text x="332.02" y="517.73" fill="#333">7</text>
<text x="358.48" y="517.73" fill="#333">7</text>
<text x="365.76" y="517.73" fill="#333">2</text>
<text x="388.72" y="517.73" fill="#333">6</text>
</g>
<g id="axis" stroke="#222" stroke-width="0.8" fill="none">
<path d="M129.00 524.00 H392.11"/>
<path d="M129.40 524.00 v4.5"/>
<path d="M189.88 524.00 v4.5"/>
<path d="M250.36 524.00 v4.5"/>
<path d="M310.84 524.00 v4.5"/>
<path d="M371.32 524.00 v4.5"/>
</g>
<g font-family="'Liberation Serif', 'Times New Roman', serif" font-size="8.2" fill="#111" text-anchor="middle">
<text x="129.40" y="538.00">0</text>
<text x="189.88" y="538.00">16</text>
<text x="250.36" y="538.00">32</text>
<text x="310.84" y="538.00">48</text>
<text x="371.32" y="538.00">64</text>
</g>
<text x="263" y="546.0" font-family="'Liberation Serif', 'Times New Roman', serif" font-weight="bold" font-size="8.2" letter-spacing="0.5" fill="#111" text-anchor="middle">Number of BESI genes / motifs</text>
<rect x="296.3" y="416.5" width="98.5" height="46" fill="#E2E2E2"/>
<g id="legend" font-family="'Liberation Serif', 'Times New Roman', serif" font-size="6.4" fill="#222" letter-spacing="0.25">
<rect x="303.00" y="419.00" width="6.4" height="6.4" rx="1" fill="#646464" stroke="#777" stroke-width="0.5"/>
<text x="311.5" y="424.20" font-size="5.6" letter-spacing="0">BESI</text>
<rect x="329.60" y="419.00" width="6.4" height="6.4" rx="1" fill="#F3DDE3" stroke="#777" stroke-width="0.5"/>
<text x="338.3" y="424.30">motif 1</text>
<rect x="361.80" y="419.00" width="6.4" height="6.4" rx="1" fill="#00F000" stroke="#777" stroke-width="0.5"/>
<text x="370.5" y="424.30">motif 6</text>
<rect x="329.60" y="427.60" width="6.4" height="6.4" rx="1" fill="#EE82EE" stroke="#777" stroke-width="0.5"/>
<text x="338.3" y="432.90">motif 2</text>
<rect x="361.80" y="427.60" width="6.4" height="6.4" rx="1" fill="#FFFF00" stroke="#777" stroke-width="0.5"/>
<text x="370.5" y="432.90">motif 7</text>
<rect x="329.60" y="436.25" width="6.4" height="6.4" rx="1" fill="#B44FD8" stroke="#777" stroke-width="0.5"/>
<text x="338.3" y="441.55">motif 3</text>
<rect x="361.80" y="436.25" width="6.4" height="6.4" rx="1" fill="#FF4500" stroke="#777" stroke-width="0.5"/>
<text x="370.5" y="441.55">motif 8</text>
<rect x="329.60" y="444.85" width="6.4" height="6.4" rx="1" fill="#7468E8" stroke="#777" stroke-width="0.5"/>
<text x="338.3" y="450.15">motif 4</text>
<rect x="361.80" y="444.85" width="6.4" height="6.4" rx="1" fill="#6FAF6F" stroke="#777" stroke-width="0.5"/>
<text x="370.5" y="450.15">motif 9</text>
<rect x="329.60" y="453.50" width="6.4" height="6.4" rx="1" fill="#00FFFF" stroke="#777" stroke-width="0.5"/>
<text x="338.3" y="458.80">motif 5</text>
<rect x="361.80" y="453.50" width="6.4" height="6.4" rx="1" fill="#D9A21E" stroke="#777" stroke-width="0.5"/>
<text x="370.5" y="458.80">motif 10</text>
</g>
</svg>
</body>
</html>
